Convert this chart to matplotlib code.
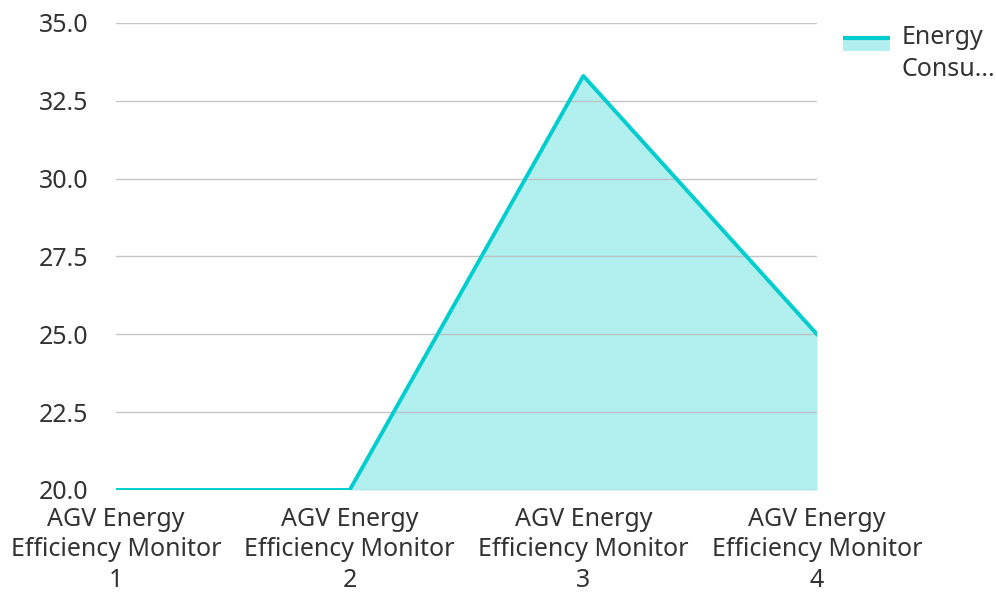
import matplotlib
matplotlib.use('Agg')
from matplotlib import pyplot as plt
from matplotlib.patches import Patch
from matplotlib.lines import Line2D
from matplotlib.legend_handler import HandlerBase
import numpy as np

categories = ['AGV Energy\nEfficiency Monitor\n1', 'AGV Energy\nEfficiency Monitor\n2',
              'AGV Energy\nEfficiency Monitor\n3', 'AGV Energy\nEfficiency Monitor\n4']
energy = [20.0, 20.0, 33.3, 25.0]
y_ticks = [20.0, 22.5, 25.0, 27.5, 30.0, 32.5, 35.0]
series_label = 'Energy\nConsu...'

LINE = '#00cdcd'
FILL = '#b2f0f0'
TEXT = '#333333'


class AreaHandler(HandlerBase):
  # legend key: thick line sitting on top of a filled band
  def create_artists(self, legend, orig, xd, yd, w, h, fontsize, trans):
    top = yd + h * 1.45
    band = plt.Rectangle((xd, top - h * 0.75), w, h * 0.75, facecolor=FILL,
                         edgecolor='none', transform=trans)
    line = Line2D([xd, xd + w], [top, top], color=LINE, lw=3,
                  solid_capstyle='butt', transform=trans)
    return [band, line]


def main():
  plt.rcParams['font.family'] = ['Noto Sans', 'DejaVu Sans']
  fig = plt.figure(figsize=(9.96, 5.94), dpi=100)
  ax = fig.add_axes([0.1165, 0.1751, 0.7038, 0.7862])

  x = np.arange(len(energy))
  ax.fill_between(x, 20.0, energy, color=FILL, lw=0, zorder=1)
  ax.plot(x, energy, color=LINE, lw=2.8, zorder=3)

  ax.set_xlim(0, len(energy) - 1)
  ax.set_ylim(20, 35)
  ax.set_yticks(y_ticks)
  ax.set_yticklabels(['%.1f' % v for v in y_ticks])
  ax.set_xticks(x)
  ax.set_xticklabels(categories, linespacing=1.3)

  ax.grid(axis='y', color='#bbbbbb', lw=1, alpha=0.85, zorder=2)
  ax.set_axisbelow(False)
  for s in ax.spines.values():
    s.set_visible(False)
  ax.tick_params(axis='y', length=0, pad=20, labelsize=18, labelcolor=TEXT)
  ax.tick_params(axis='x', length=0, pad=12, labelsize=18, labelcolor=TEXT)

  leg = fig.legend([Patch()], [series_label], handler_map={Patch: AreaHandler()},
                   loc='upper left', bbox_to_anchor=(843 / 996, 1 - 25 / 594),
                   frameon=False, fontsize=18, labelcolor=TEXT, borderpad=0,
                   handlelength=1.88, handletextpad=0.46, borderaxespad=0)
  for t in leg.get_texts():
    t.set_linespacing(1.36)

  fig.savefig('out.png', dpi=100)


if __name__ == '__main__':
  main()
